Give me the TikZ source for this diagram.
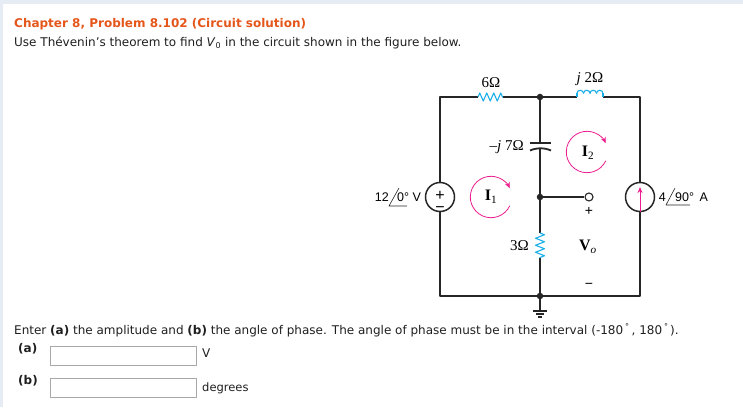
\documentclass[tikz,border=0pt]{standalone}
\usepackage{fontspec}
\setmainfont{DejaVu Sans}
\newfontfamily\labelfont{Liberation Sans}
\newfontfamily\valuefont{Liberation Serif}
\usetikzlibrary{arrows.meta,decorations.pathmorphing}
\definecolor{headcolor}{HTML}{E5561B}
\definecolor{wirepink}{HTML}{EC1C8C}
\definecolor{partblue}{HTML}{1AAEE8}
\definecolor{pageedge}{HTML}{E6ECF4}
\definecolor{boxedge}{HTML}{A8A8A8}
\tikzset{
    wire/.style = {line width=1.8pt, draw=black!85},
    part/.style = {line width=1.1pt, draw=partblue},
    loopline/.style = {line width=0.8pt, draw=wirepink, -{Stealth[length=6pt,width=5pt]}},
    dot/.style = {circle, fill=black!85, inner sep=0pt, minimum size=6.5pt},
    source/.style = {circle, draw=black!85, line width=1.5pt, inner sep=0pt, minimum size=29pt},
    pagetext/.style = {anchor=base west, inner sep=0pt, text=black!88, font=\fontsize{12}{14}\selectfont},
    boldtext/.style = {pagetext, font=\bfseries\fontsize{12}{14}\selectfont},
    value/.style = {inner sep=0pt, font=\valuefont\fontsize{15}{17}\selectfont},
    current/.style = {inner sep=0pt, font=\valuefont\bfseries\fontsize{16}{18}\selectfont},
    phasor/.style = {inner sep=0pt, font=\labelfont\fontsize{12.5}{14}\selectfont},
    sign/.style = {inner sep=0pt, font=\labelfont\fontsize{14}{15}\selectfont},
    inputbox/.style = {draw=boxedge, line width=0.8pt, fill=white, inner sep=0pt, minimum width=146pt, minimum height=19pt}
}
\begin{document}
\begin{tikzpicture}[x=1pt, y=1pt, line join = round]
    \useasboundingbox (0,0) rectangle (743,407);
    \fill[pageedge] (0,0) rectangle (3,407);
    \fill[pageedge] (0,403) rectangle (743,407);

    % text above
    \node[boldtext, text=headcolor] (title) at (14,379.5) {Chapter 8, Problem 8.102 (Circuit solution)};
    \node[pagetext] (question) at (14,360) {Use Thévenin's theorem to find \textit{V}\textsubscript{0} in the circuit shown in the figure below.};

    \coordinate (TL) at (440,310);
    \coordinate (TR) at (640,310);
    \coordinate (BL) at (440,111);
    \coordinate (BR) at (640,111);
    \coordinate (Ra) at (478,310);
    \coordinate (Rb) at (503,310);
    \coordinate (La) at (577,310);
    \coordinate (Lb) at (603,310);
    \coordinate (Ca) at (540,264);
    \coordinate (Cb) at (540,259);
    \coordinate (Sa) at (540,174);
    \coordinate (Sb) at (540,149);
    \coordinate (G) at (540,96);

    \node[dot] (TM) at (540,310) {};
    \node[dot] (MM) at (540,210) {};
    \node[dot] (BM) at (540,111) {};
    \node[source] (Vs) at (440,210) {};
    \node[source] (Is) at (640,210) {};
    \node[circle, draw=black!85, line width=1.1pt, fill=white, inner sep=0pt, minimum size=8pt] (T) at (589,210) {};

    \draw[wire] (Vs)--(TL)--(Ra);
    \draw[wire] (Rb)--(TM)--(La);
    \draw[wire] (Lb)--(TR)--(Is);
    \draw[wire] (Is)--(BR)--(BL)--(Vs);
    \draw[wire] (TM)--(Ca);
    \draw[wire] (Cb)--(MM)--(Sa);
    \draw[wire] (Sb)--(BM)--(G);
    \draw[wire] (MM)--(T);

    % capacitor
    \draw[wire] (530,264)--(551,264);
    \draw[wire] (530,256.5) to[bend left=22] (551,256.5);

    % resistors
    \draw[part, decorate, decoration={zigzag, segment length=7pt, amplitude=4pt}] (Ra)--(Rb);
    \draw[part, decorate, decoration={zigzag, segment length=7pt, amplitude=4.5pt}] (Sa)--(Sb);

    % inductor
    \foreach \i in {0,...,3}
        \draw[part] (La) ++(\i*6.5,3.5) arc (180:0:3.25);
    \draw[part] (La)--++(0,3.5);
    \draw[part] (Lb)--++(0,3.5);

    % ground
    \draw[wire] (533,96)--(547,96);
    \draw[line width=1.1pt, draw=black!85] (536,93)--(544,93);
    \draw[line width=1.1pt, draw=black!85] (538,90)--(542,90);

    % source insides
    \node[inner sep=0pt, align=center, font=\labelfont\fontsize{16}{12.5}\selectfont] (Vsign) at (440,205) {+\\−};
    \draw[line width=1pt, draw=wirepink, -{Stealth[length=6pt,width=5pt]}] (Is.south)--(640,220);

    % values
    \node[value] (Rval) at (491,324) {6Ω};
    \node[value] (Lval) at (590,328) {\textit{j} 2Ω};
    \node[value, anchor=east] (Cval) at (524,260) {\textendash\textit{j} 7Ω};
    \node[value, anchor=east] (Sval) at (529,161) {3Ω};

    \node[phasor, anchor=east] (Vmag) at (389,210) {12};
    \node[phasor, anchor=west] (Vang) at (397,210) {0° V};
    \draw[line width=0.6pt, draw=black!85] (399,219)--(389,201)--(407,201);
    \node[phasor, anchor=east] (Imag) at (666,210) {4};
    \node[phasor, anchor=west] (Iang) at (675,210) {90°\kern2pt{} A};
    \draw[line width=0.6pt, draw=black!85] (675,219)--(666,202)--(690,202);

    % mesh currents
    \node[current] (Ione) at (491,210) {I\textsubscript{\mdseries 1}};
    \node[current] (Itwo) at (588,254) {I\textsubscript{\mdseries 2}};
    \draw[loopline] (491,210) ++(-25:20.7) arc (-25:-335:20.7);
    \draw[loopline] (587,255) ++(-25:20.7) arc (-25:-335:20.7);

    % output
    \node[sign] (Op) at (589,196) {+};
    \node[sign] (Om) at (589,121) {−};
    \node[current, font=\valuefont\fontsize{16}{18}\selectfont] (Vo) at (588,160) {\textbf{V}\textsubscript{\textit{o}}};

    % text below
    \node[pagetext] (enter) at (14,73) {Enter \textbf{(a)} the amplitude and \textbf{(b)} the angle of phase. The angle of phase must be in the interval (-180\kern2pt\textsuperscript{°}\kern2pt, 180\kern2pt\textsuperscript{°}\kern1.5pt).};
    \node[boldtext] (parta) at (18,55) {(a)};
    \node[boldtext] (partb) at (18,23) {(b)};
    \node[inputbox] (boxa) at (123,51.5) {};
    \node[inputbox] (boxb) at (123,19) {};
    \node[pagetext] (unita) at (202,50) {V};
    \node[pagetext, font=\fontsize{11.5}{14}\selectfont] (unitb) at (202,16) {degrees};
\end{tikzpicture}
\end{document}
